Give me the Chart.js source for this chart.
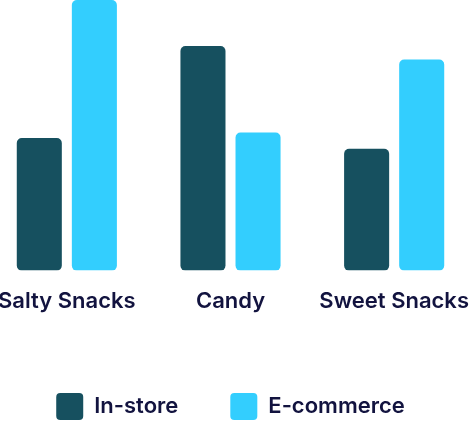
<!DOCTYPE html>
<html>
<head>
<meta charset="utf-8">
<script src="https://cdn.jsdelivr.net/npm/chart.js@4.4.1/dist/chart.umd.min.js"></script>
<style>
  html, body { margin: 0; padding: 0; background: #fff; overflow: hidden; }
  /* plot is a bit wider than the window, as in the reference */
  #wrap { width: 491px; height: 430px; position: relative; margin-left: -15px; }
</style>
</head>
<body>
<div id="wrap"><canvas id="barChart"></canvas></div>
<script>
// Data
const categories = ['Salty Snacks', 'Candy', 'Sweet Snacks'];
const inStore = [49, 83, 45];
const eCommerce = [100, 51, 78];

// Colors
const colors = {
    inStore: '#16505f',
    eCommerce: '#33cefe',
    text: '#12133f'
};

Chart.defaults.font.family = "Inter, 'Noto Sans', sans-serif";
Chart.defaults.color = colors.text;

new Chart(document.getElementById('barChart'), {
    type: 'bar',
    data: {
        labels: categories,
        datasets: [{
            label: 'In-store',
            data: inStore,
            backgroundColor: colors.inStore,
            borderRadius: 5,
            borderSkipped: false
        }, {
            label: 'E-commerce',
            data: eCommerce,
            backgroundColor: colors.eCommerce,
            borderRadius: 5,
            borderSkipped: false
        }]
    },
    options: {
        responsive: true,
        maintainAspectRatio: false,
        animation: false,
        categoryPercentage: 0.673,
        barPercentage: 0.818,
        layout: {
            padding: 0
        },
        plugins: {
            tooltip: { enabled: false },
            legend: {
                position: 'bottom',
                labels: {
                    boxWidth: 27,
                    boxHeight: 27,
                    padding: 52,
                    color: colors.text,
                    font: { size: 22, weight: '600' },
                    generateLabels: function(chart) {
                        return chart.data.datasets.map((ds, i) => ({
                            text: ds.label,
                            fillStyle: ds.backgroundColor,
                            strokeStyle: ds.backgroundColor,
                            lineWidth: 0,
                            borderRadius: 4,
                            datasetIndex: i,
                            fontColor: colors.text
                        }));
                    }
                }
            }
        },
        scales: {
            y: {
                display: false,
                min: 0,
                max: 100
            },
            x: {
                // tick marks hidden, but their length still spaces the labels
                grid: { display: false, drawTicks: true, tickLength: 18 },
                border: { display: false },
                ticks: {
                    padding: 0,
                    color: colors.text,
                    font: { size: 22, weight: '600' }
                },
                afterFit: function(axis) {
                    axis.height += 26;
                }
            }
        }
    }
});
</script>
</body>
</html>
